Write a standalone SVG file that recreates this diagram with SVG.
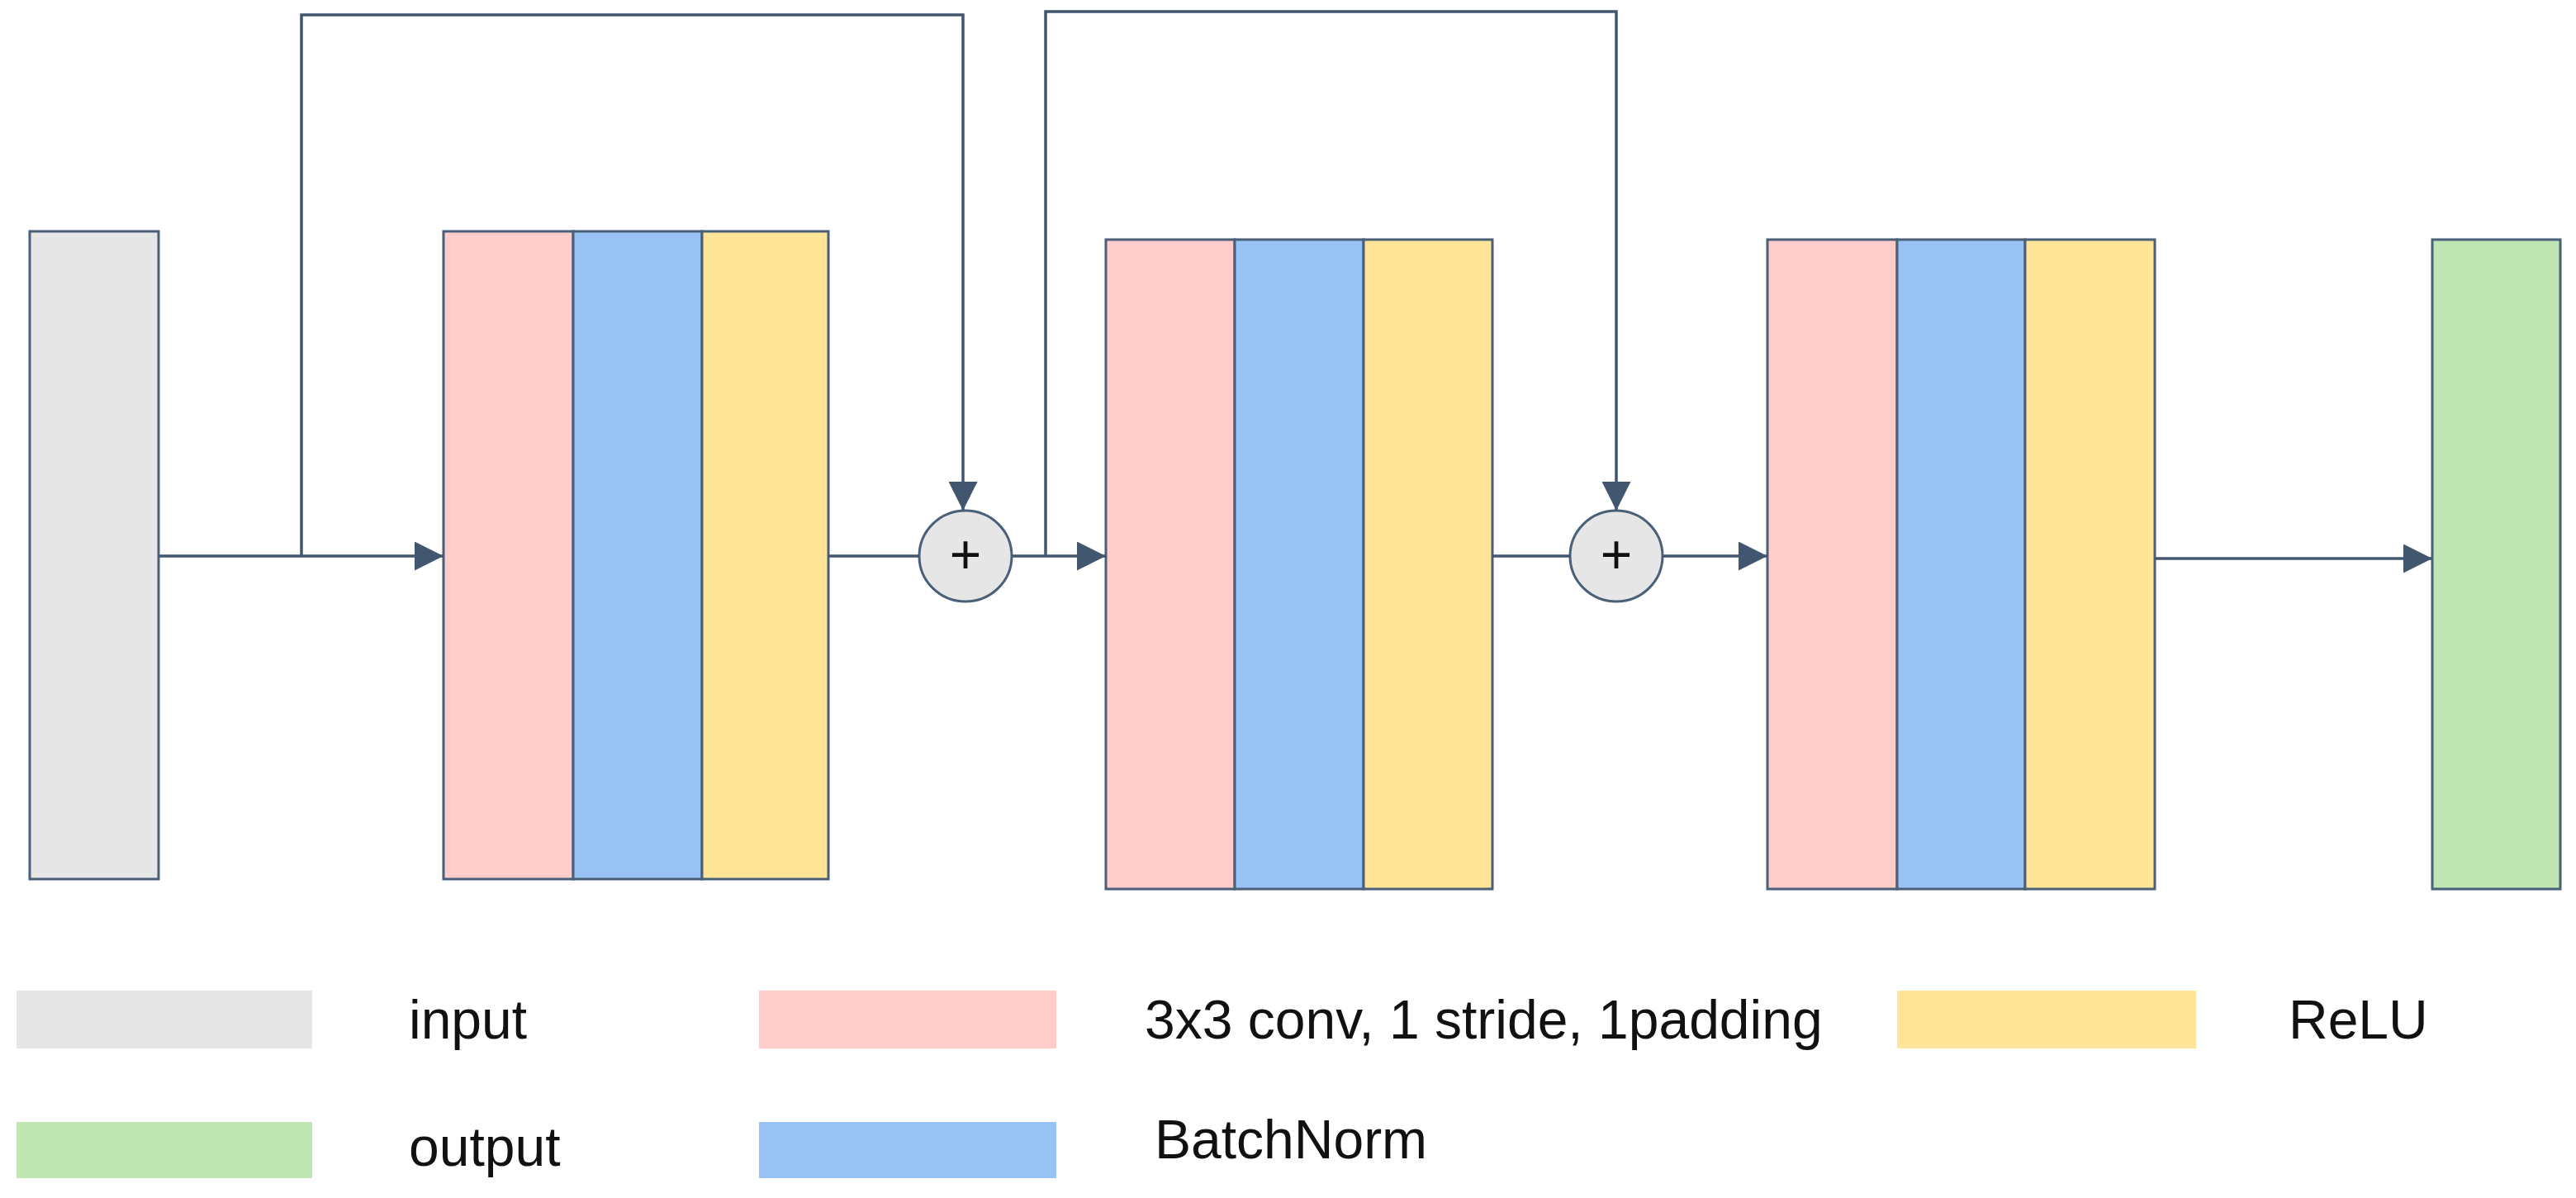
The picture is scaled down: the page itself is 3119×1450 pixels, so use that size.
<svg xmlns="http://www.w3.org/2000/svg" width="3119" height="1450" viewBox="0 0 3119 1450">
<style>
.b{stroke:#4a5f78;stroke-width:3}
.c{fill:none;stroke:#42576f;stroke-width:3.5}
.g{fill:#e6e6e6}.p{fill:#ffcccc}.u{fill:#99c3f4}.y{fill:#ffe598}.o{fill:#bfe6b3}
text{font-family:"Liberation Sans",Arial,sans-serif;font-size:66px;fill:#111}
</style>
<defs>
<marker id="a" viewBox="0 0 10 10" refX="10" refY="5" markerWidth="11" markerHeight="10" orient="auto"><path d="M0,0L10,5L0,10z" fill="#42576f"/></marker>
</defs>
<rect width="3119" height="1450" fill="#fff"/>
<g id="input"><rect class="g b" x="36" y="280" width="156" height="784"/></g>
<g id="block1"><rect class="p b" x="537" y="280" width="157" height="784"/><rect class="u b" x="694" y="280" width="156" height="784"/><rect class="y b" x="850" y="280" width="153" height="784"/></g>
<g id="block2"><rect class="p b" x="1339" y="290" width="156" height="786"/><rect class="u b" x="1495" y="290" width="156" height="786"/><rect class="y b" x="1651" y="290" width="156" height="786"/></g>
<g id="block3"><rect class="p b" x="2140" y="290" width="157" height="786"/><rect class="u b" x="2297" y="290" width="155" height="786"/><rect class="y b" x="2452" y="290" width="157" height="786"/></g>
<g id="output"><rect class="o b" x="2945" y="290" width="155" height="786"/></g>
<g id="add1"><ellipse class="g b" cx="1169" cy="673" rx="56" ry="55"/><text x="1169" y="694" text-anchor="middle" font-size="60">+</text></g>
<g id="add2"><ellipse class="g b" cx="1957" cy="673" rx="56" ry="55"/><text x="1957" y="694" text-anchor="middle" font-size="60">+</text></g>
<g id="connectors">
<path class="c" d="M192,673H537" marker-end="url(#a)"/>
<path class="c" d="M365,673V18H1166V618" marker-end="url(#a)"/>
<path class="c" d="M1003,673H1113"/>
<path class="c" d="M1225,673H1339" marker-end="url(#a)"/>
<path class="c" d="M1266,673V14H1957V618" marker-end="url(#a)"/>
<path class="c" d="M1807,673H1901"/>
<path class="c" d="M2013,673H2140" marker-end="url(#a)"/>
<path class="c" d="M2609,676H2945" marker-end="url(#a)"/>
</g>
<g id="legend">
<rect class="g" x="20" y="1199" width="358" height="70"/><text x="495" y="1257">input</text>
<rect class="p" x="919" y="1199" width="360" height="70"/><text x="1386" y="1257">3x3 conv, 1 stride, 1padding</text>
<rect class="y" x="2297" y="1199" width="362" height="70"/><text x="2771" y="1257">ReLU</text>
<rect class="o" x="20" y="1358" width="358" height="68"/><text x="495" y="1411">output</text>
<rect class="u" x="919" y="1358" width="360" height="68"/><text x="1398" y="1402">BatchNorm</text>
</g>
</svg>
